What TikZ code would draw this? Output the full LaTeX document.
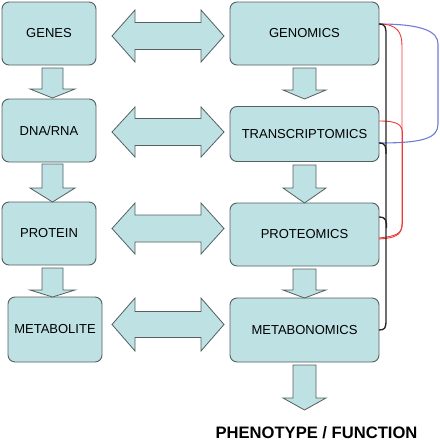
\documentclass[tikz,border=0pt]{standalone}
\usepackage{fontspec}
\setmainfont{Liberation Sans}
\definecolor{boxfill}{RGB}{190,225,228}
\definecolor{boxline}{RGB}{85,95,95}
\definecolor{lnblue}{RGB}{110,125,215}
\definecolor{lnred}{RGB}{240,55,55}
\definecolor{lnblack}{RGB}{35,35,35}
\newcommand\blkdown[6]{\draw[blk] (#1-#5,#2) -- (#1+#5,#2) -- (#1+#5,#3) -- (#1+#6,#3) -- (#1,#4) -- (#1-#6,#3) -- (#1-#5,#3) -- cycle;}
\newcommand\blkdouble[6]{\draw[blk] (#1,#4) -- (#1+#3,#4-#6) -- (#1+#3,#4-#5) -- (#2-#3,#4-#5) -- (#2-#3,#4-#6) -- (#2,#4) -- (#2-#3,#4+#6) -- (#2-#3,#4+#5) -- (#1+#3,#4+#5) -- (#1+#3,#4+#6) -- cycle;}
\begin{document}
\begin{tikzpicture}[x=1pt,y=-1pt,
  omic/.style={draw=boxline, fill=boxfill, line width=0.9pt, rounded corners=7pt,
    inner sep=0pt, outer sep=0pt, font=\fontsize{13}{15}\selectfont},
  lbox/.style={omic, minimum width=94pt, minimum height=63pt},
  rbox/.style={omic, minimum width=149pt},
  blk/.style={draw=boxline, fill=boxfill, line width=0.8pt, line join=miter},
  conn/.style={line width=1.1pt}]
\useasboundingbox (0,0) rectangle (440,440);
% left column
\node[lbox] (genes) at (49,33.5) {GENES};
\node[lbox] (dna) at (49,130.5) {DNA/RNA};
\node[lbox] (protein) at (49,233.5) {PROTEIN};
\node[lbox, minimum height=65pt] (metabolite) at (55,329.5) {METABOLITE};
% right column
\node[rbox, minimum height=63pt] (genomics) at (304.5,33.5) {GENOMICS};
\node[rbox, minimum height=55pt] (trans) at (304.5,134) {TRANSCRIPTOMICS};
\node[rbox, minimum height=63pt] (prot) at (304.5,234.5) {PROTEOMICS};
\node[rbox, minimum height=64pt] (metab) at (304.5,330) {METABONOMICS};
\node[anchor=base, font=\bfseries\fontsize{16.6}{20}\selectfont] (pheno) at (316.5,438) {PHENOTYPE / FUNCTION};
% block arrows down (left)
\blkdown{52.5}{68}{89}{98}{10.5}{22.5}
\blkdown{52.5}{164}{188}{202}{10.5}{22.5}
\blkdown{52.5}{268}{290}{297}{10.5}{22.5}
% block arrows down (right)
\blkdown{304.5}{68}{90}{99}{11.5}{21.5}
\blkdown{304.5}{165}{188}{203}{11.5}{21.5}
\blkdown{304.5}{269}{290}{298}{11.5}{21.5}
\blkdown{304.5}{365}{398}{410}{11.5}{21.5}
% double arrows
\blkdouble{112}{224}{23}{36}{13.5}{26}
\blkdouble{112}{224}{23}{132}{13.5}{25}
\blkdouble{112}{224}{23}{228.5}{13.5}{25.5}
\blkdouble{112}{224}{23}{324.5}{13}{26.5}
% connectors
\draw[conn, lnblue] ([yshift=9.5pt]genomics.east) .. controls +(45,0) and +(0,-12) .. (438,44)
  -- (438,124) .. controls +(0,14) and +(45,0) .. ([yshift=-9pt]trans.east);
\draw[conn, lnred, line width=0.9pt] ([yshift=9.5pt]genomics.east) .. controls +(18,0) and +(0,-14) .. (402,46)
  -- (402,224) .. controls +(0,12) and +(15,-1) .. ([yshift=-4.5pt]prot.east);
\draw[conn, lnred, line width=0.9pt] ([yshift=13pt]trans.east) .. controls +(18,0) and +(0,-10) .. (402.5,134)
  -- (402.5,222) .. controls +(0,13) and +(16,-2) .. ([yshift=-3.5pt]prot.east);
\draw[conn, lnblack, line width=1.3pt] ([yshift=9.5pt]genomics.east) .. controls +(7,0) and +(0,-8) .. (386,36)
  -- (386,320) .. controls +(0,8) and +(6,0) .. (metab.east);
\draw[conn, lnblack, line width=1.3pt] ([yshift=-9pt]trans.east) .. controls +(7,0) and +(0,-7) .. (386,154);
\draw[conn, lnblack, line width=1.3pt] ([yshift=17.5pt]prot.east) .. controls +(8,0) and +(0,-6) .. (386.5,228);
\end{tikzpicture}
\end{document}
